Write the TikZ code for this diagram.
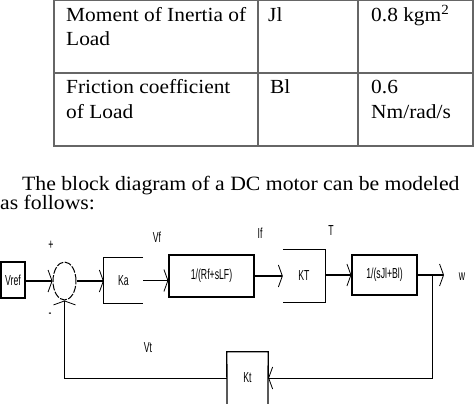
\documentclass[tikz,border=0pt]{standalone}
\usepackage{fontspec}
\setmainfont[FakeStretch=1.07]{Liberation Serif}
\newfontfamily\diagfont[FakeStretch=0.6]{Liberation Sans}
\usetikzlibrary{arrows.meta,shapes.geometric}
\begin{document}
\begin{tikzpicture}[x=1pt,y=-1pt,
  tline/.style={line width=1.8pt, draw=black!60},
  ttext/.style={anchor=base west, inner sep=0pt, font=\fontsize{20}{22}\selectfont},
  ptext/.style={anchor=base west, inner sep=0pt, text width=520pt, align=flush left, font=\fontsize{20.3}{17.5}\selectfont},
  blk/.style={line width=1.3pt},
  lbl/.style={inner sep=0pt, font=\diagfont\fontsize{14.5}{16}\selectfont},
  sig/.style={-{Straight Barb[length=4pt,width=22pt,line width=0.8pt]}, line width=1.2pt},
]
\useasboundingbox (0,0) rectangle (474,404);
% table
\draw[tline] (54,0) rectangle (473,146);
\draw[tline] (54,73) -- (473,73);
\draw[tline] (258,0) -- (258,146);
\draw[tline] (358,0) -- (358,146);
\node[ttext] (t11) at (66,22) {Moment of Inertia of};
\node[ttext] (t12) at (66,46) {Load};
\node[ttext] (t13) at (268,22) {Jl};
\node[ttext] (t14) at (371,22) {0.8 kgm\textsuperscript{2}};
\node[ttext] (t21) at (66,93) {Friction coefficient};
\node[ttext] (t22) at (66,118) {of Load};
\node[ttext] (t23) at (270,93) {Bl};
\node[ttext] (t24) at (371,93) {0.6};
\node[ttext] (t25) at (371,118) {Nm/rad/s};
% paragraph
\node[ptext] (para) at (0,190) {\hspace*{22pt}The block diagram of a DC motor can be modeled\\as follows:};
% blocks
\node[draw, blk, lbl, minimum width=24pt, minimum height=36pt] (vref) at (13,280) {Vref};
\node[draw, ellipse, dashed, dash pattern=on 7pt off 1.5pt, line width=1pt, minimum width=23pt, minimum height=38pt, inner sep=0pt] (sum) at (64.5,281) {};
\node[lbl, minimum width=39pt, minimum height=45pt] (ka) at (123.5,280.5) {Ka};
\draw[blk] (ka.north east) -- (ka.north west) -- (ka.south west) -- (ka.south east);
\node[draw, blk, lbl, minimum width=85pt, minimum height=42pt] (rf) at (211.5,276) {1/(Rf+sLF)};
\node[lbl, minimum width=42pt, minimum height=52pt] (kt) at (304,276) {KT};
\draw[blk] (kt.north west) -- (kt.north east) -- (kt.south east) -- (kt.south west);
\node[draw, blk, lbl, minimum width=65pt, minimum height=40pt] (jb) at (384.5,275) {1/(sJl+Bl)};
\node[lbl, minimum width=41pt, minimum height=52pt] (ktf) at (247.5,378) {Kt};
\draw[blk] (227,404) -- (ktf.north west) -- (ktf.north east) -- (268,404);
% labels
\node[lbl] (plus) at (51,245) {+};
\node[lbl] (minus) at (50,315) {-};
\node[lbl] (vf) at (157,237) {Vf};
\node[lbl] (if) at (260,233) {If};
\node[lbl] (tl) at (331,231) {T};
\node[lbl] (vt) at (148,348) {Vt};
\node[lbl] (wl) at (462,277) {w};
% connectors
\draw[sig, line width=1.8pt] (vref.east |- sum.west) -- (sum.west);
\draw[sig] (sum.east) -- (sum.east -| ka.west);
\draw[sig] (ka.east) -- (ka.east -| rf.west);
\draw[sig] (rf.east) -- (rf.east -| kt.west);
\draw[sig] (jb.west -| kt.east) -- (jb.west);
\coordinate (wend) at (444,275);
\coordinate (br) at (432,275);
\draw[sig] (jb.east) -- (wend);
\draw[sig, line width=0.9pt] (br) |- (ktf.east);
\draw[sig, line width=0.9pt] (ktf.west) -| (sum.south);
\end{tikzpicture}
\end{document}
